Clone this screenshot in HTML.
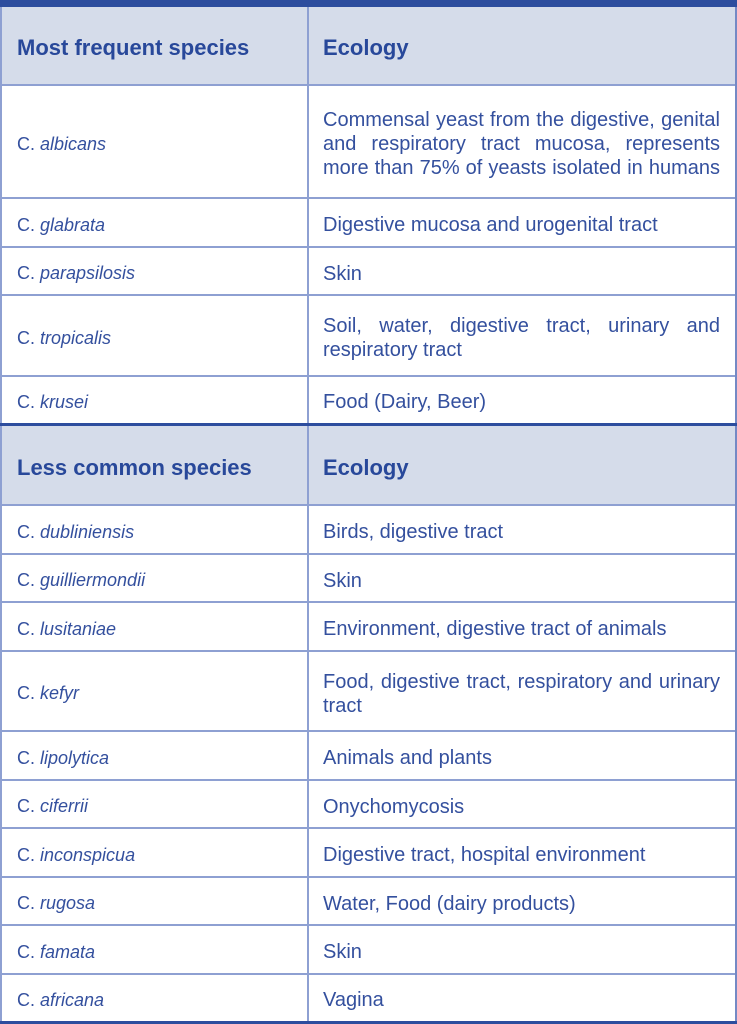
<!DOCTYPE html>
<html>
<head>
<meta charset="utf-8">
<style>
  html,body{margin:0;padding:0;background:#fff;}
  body{width:737px;height:1024px;position:relative;overflow:hidden;font-family:"Liberation Sans",sans-serif;}
  .bar{position:absolute;left:0;width:737px;background:#2d4d9e;}
  .hl{position:absolute;left:0;width:737px;height:2px;background:#8ea0d2;}
  .vl{position:absolute;top:0;width:2px;height:1024px;background:#8ea0d2;}
  .hdr{position:absolute;left:0;width:737px;background:#d5dcea;}
  .row{position:absolute;left:0;width:737px;}
  .c1{position:absolute;left:17px;top:2px;height:100%;display:flex;align-items:center;font-size:18px;color:#34509e;white-space:nowrap;}
  .c1 i{font-style:italic;}
  .c2{position:absolute;left:323px;width:397px;top:2px;height:100%;display:flex;flex-direction:column;justify-content:center;font-size:20px;line-height:24px;color:#34509e;}
  .c2 div{white-space:nowrap;}
  .j{text-align:justify;text-align-last:justify;}
  .h1{position:absolute;top:2px;height:100%;display:flex;align-items:center;font-size:22px;font-weight:bold;color:#28489a;white-space:nowrap;}
</style>
</head>
<body>
  <!-- header backgrounds -->
  <div class="hdr" style="top:7px;height:78px;"></div>
  <div class="hdr" style="top:426px;height:79px;"></div>

  <!-- header texts -->
  <div class="row" style="top:7px;height:78px;">
    <div class="h1" style="left:17px;">Most frequent species</div>
    <div class="h1" style="left:323px;">Ecology</div>
  </div>
  <div class="row" style="top:426px;height:79px;">
    <div class="h1" style="left:17px;">Less common species</div>
    <div class="h1" style="left:323px;">Ecology</div>
  </div>

  <!-- rows: section 1 -->
  <div class="row" style="top:86px;height:112px;">
    <div class="c1">C.&nbsp;<i>albicans</i></div>
    <div class="c2">
      <div class="j">Commensal yeast from the digestive, genital</div>
      <div class="j">and respiratory tract mucosa, represents</div>
      <div class="j">more than 75% of yeasts isolated in humans</div>
    </div>
  </div>
  <div class="row" style="top:199px;height:48px;">
    <div class="c1">C.&nbsp;<i>glabrata</i></div>
    <div class="c2"><div>Digestive mucosa and urogenital tract</div></div>
  </div>
  <div class="row" style="top:248px;height:47px;">
    <div class="c1">C.&nbsp;<i>parapsilosis</i></div>
    <div class="c2"><div>Skin</div></div>
  </div>
  <div class="row" style="top:296px;height:80px;">
    <div class="c1">C.&nbsp;<i>tropicalis</i></div>
    <div class="c2">
      <div class="j">Soil, water, digestive tract, urinary and</div>
      <div>respiratory tract</div>
    </div>
  </div>
  <div class="row" style="top:377px;height:46px;">
    <div class="c1">C.&nbsp;<i>krusei</i></div>
    <div class="c2"><div>Food (Dairy, Beer)</div></div>
  </div>

  <!-- rows: section 2 -->
  <div class="row" style="top:506px;height:48px;">
    <div class="c1">C.&nbsp;<i>dubliniensis</i></div>
    <div class="c2"><div>Birds, digestive tract</div></div>
  </div>
  <div class="row" style="top:555px;height:47px;">
    <div class="c1">C.&nbsp;<i>guilliermondii</i></div>
    <div class="c2"><div>Skin</div></div>
  </div>
  <div class="row" style="top:603px;height:48px;">
    <div class="c1">C.&nbsp;<i>lusitaniae</i></div>
    <div class="c2"><div>Environment, digestive tract of animals</div></div>
  </div>
  <div class="row" style="top:652px;height:79px;">
    <div class="c1">C.&nbsp;<i>kefyr</i></div>
    <div class="c2">
      <div class="j">Food, digestive tract, respiratory and urinary</div>
      <div>tract</div>
    </div>
  </div>
  <div class="row" style="top:732px;height:48px;">
    <div class="c1">C.&nbsp;<i>lipolytica</i></div>
    <div class="c2"><div>Animals and plants</div></div>
  </div>
  <div class="row" style="top:781px;height:47px;">
    <div class="c1">C.&nbsp;<i>ciferrii</i></div>
    <div class="c2"><div>Onychomycosis</div></div>
  </div>
  <div class="row" style="top:829px;height:48px;">
    <div class="c1">C.&nbsp;<i>inconspicua</i></div>
    <div class="c2"><div>Digestive tract, hospital environment</div></div>
  </div>
  <div class="row" style="top:878px;height:47px;">
    <div class="c1">C.&nbsp;<i>rugosa</i></div>
    <div class="c2"><div>Water, Food (dairy products)</div></div>
  </div>
  <div class="row" style="top:926px;height:48px;">
    <div class="c1">C.&nbsp;<i>famata</i></div>
    <div class="c2"><div>Skin</div></div>
  </div>
  <div class="row" style="top:975px;height:46px;">
    <div class="c1">C.&nbsp;<i>africana</i></div>
    <div class="c2"><div>Vagina</div></div>
  </div>

  <!-- horizontal lines -->
  <div class="hl" style="top:84px;"></div>
  <div class="hl" style="top:197px;"></div>
  <div class="hl" style="top:246px;"></div>
  <div class="hl" style="top:294px;"></div>
  <div class="hl" style="top:375px;"></div>
  <div class="hl" style="top:504px;"></div>
  <div class="hl" style="top:553px;"></div>
  <div class="hl" style="top:601px;"></div>
  <div class="hl" style="top:650px;"></div>
  <div class="hl" style="top:730px;"></div>
  <div class="hl" style="top:779px;"></div>
  <div class="hl" style="top:827px;"></div>
  <div class="hl" style="top:876px;"></div>
  <div class="hl" style="top:924px;"></div>
  <div class="hl" style="top:973px;"></div>

  <!-- vertical lines -->
  <div class="vl" style="left:0;"></div>
  <div class="vl" style="left:307px;"></div>
  <div class="vl" style="left:735px;background:#7489c4;"></div>

  <!-- thick bars -->
  <div class="bar" style="top:0;height:7px;"></div>
  <div class="bar" style="top:423px;height:3px;"></div>
  <div class="bar" style="top:1021px;height:3px;"></div>
</body>
</html>
